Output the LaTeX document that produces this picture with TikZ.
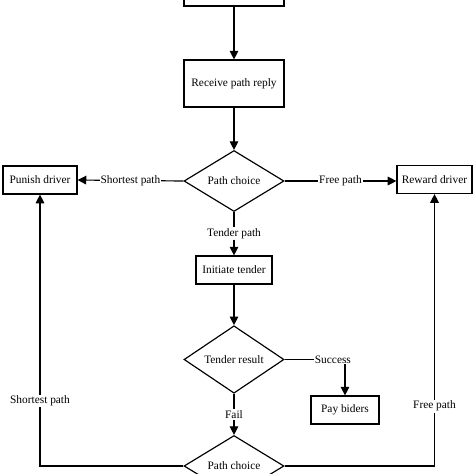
\documentclass[tikz,border=0pt]{standalone}
\usepackage{fontspec}
\setmainfont{Liberation Serif}
\usetikzlibrary{shapes.geometric}
\usetikzlibrary{arrows.meta}

\begin{document}
\begin{tikzpicture}[>={Triangle[length=2.6mm, width=2.6mm]}, line width=1pt, font=\fontsize{9.7}{11}\selectfont,
        box/.style={draw, minimum width=3cm, minimum height=1.41cm, inner sep=2pt},
        smallbox/.style={draw, minimum height=0.84cm, inner sep=2pt},
        decision/.style={draw, diamond, minimum width=3cm, minimum height=1.83cm, inner sep=0pt},
        lbl/.style={fill=white, inner sep=1pt}]
        \useasboundingbox (0,0) rectangle (14.22,-14.22);

        % Main column
        \node (start) at (7.02,0.525) [box] {};
        \node (receive) at (7.02,-2.505) [box] {Receive path reply};
        \node (choice) at (7.02,-5.43) [decision] {Path choice};
        \node (tender) at (7.02,-8.1) [smallbox, minimum width=2.28cm] {Initiate tender};
        \node (result) at (7.02,-10.785) [decision, minimum height=1.77cm] {Tender result};
        \node (choiceb) at (7.02,-13.98) [decision] {Path choice};

        % Side boxes
        \node (punish) at (1.2,-5.4) [smallbox, minimum width=2.22cm] {Punish driver};
        \node (reward) at (13.035,-5.385) [smallbox, minimum width=2.25cm] {Reward driver};
        \node (pay) at (10.35,-12.3) [smallbox, minimum width=2.04cm] {Pay biders};

        % Arrows
        \draw[->] (start.south) -- (receive.north);
        \draw[->] (receive.south) -- (choice.north);
        \draw[->] (choice.west) -- (punish.east) node[midway, lbl] {Shortest path};
        \draw[->] (choice.east) -- (reward.west |- choice.east) node[midway, lbl] {Free path};
        \draw[->] (choice.south) -- (tender.north) node[midway, lbl] {Tender path};
        \draw[->] (tender.south) -- (result.north);
        \draw[->] (result.east) -| (pay.north) node[pos=0.4, lbl] {Success};
        \draw[->] (result.south) -- (choiceb.north) node[midway, lbl] {Fail};

        % Arrows from the second choice back up
        \draw[->] (choiceb.west) -| (punish.south) node[pos=0.62, lbl] {Shortest path};
        \draw[->] (choiceb.east) -| (reward.south) node[pos=0.61, lbl] {Free path};

    \end{tikzpicture}
\end{document}
